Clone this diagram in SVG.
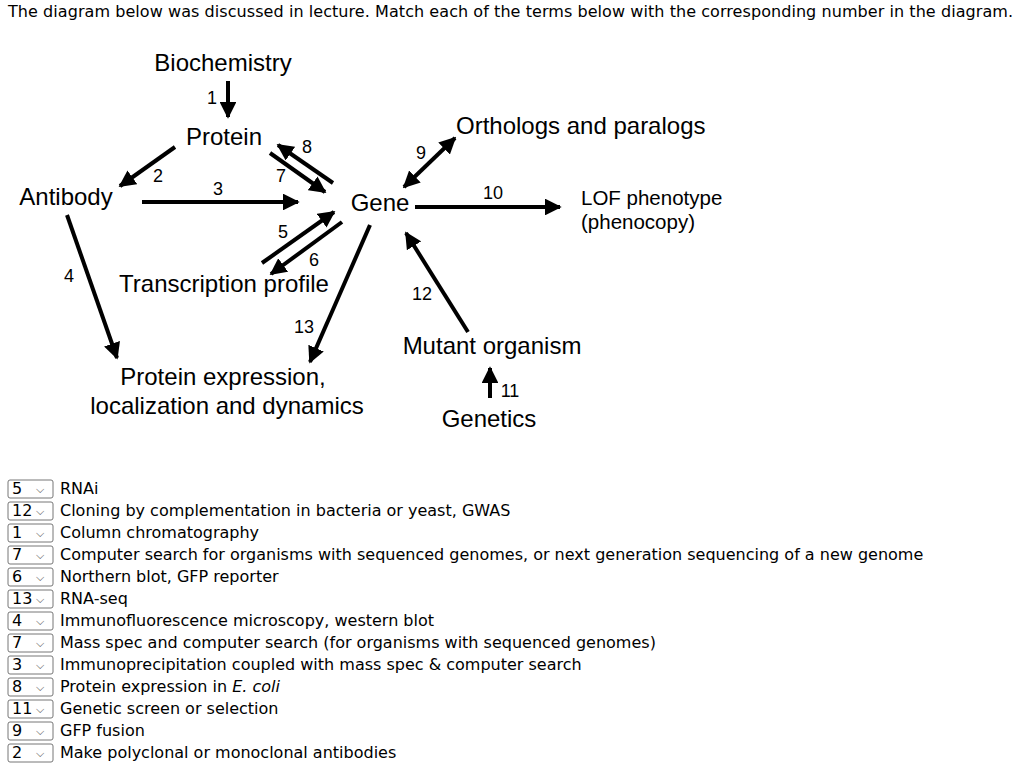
<svg xmlns="http://www.w3.org/2000/svg" width="1024" height="772" viewBox="0 0 1024 772">
<defs>
<marker id="ah" viewBox="0 0 10 10" refX="9" refY="5" markerWidth="4.2" markerHeight="4.2" orient="auto-start-reverse"><path d="M0,0 L10,5 L0,10 Z" fill="#000"/></marker>
<style>
.l{font-family:"Liberation Sans",Arial,sans-serif;font-size:24px;fill:#000}
.n{font-family:"Liberation Sans",Arial,sans-serif;font-size:18px;fill:#000}
.v{font-family:"DejaVu Sans",Verdana,sans-serif;font-size:16px;fill:#000}
.k{font-family:"DejaVu Sans",Verdana,sans-serif;font-size:11px;fill:#555}
.c line{stroke:#000;stroke-width:4;marker-end:url(#ah)}
.b{fill:#fff;stroke:#767676;stroke-width:1}
</style>
</defs>
<rect width="1024" height="772" fill="#fff"/>
<text class="v" x="8" y="17" textLength="1005">The diagram below was discussed in lecture. Match each of the terms below with the corresponding number in the diagram.</text>
<g id="nodes">
<g id="biochem"><text class="l" x="223" y="71" text-anchor="middle">Biochemistry</text></g>
<g id="protein"><text class="l" x="224" y="145" text-anchor="middle">Protein</text></g>
<g id="antibody"><text class="l" x="66" y="205" text-anchor="middle">Antibody</text></g>
<g id="gene"><text class="l" x="380" y="211" text-anchor="middle">Gene</text></g>
<g id="orth"><text class="l" x="456" y="134">Orthologs and paralogs</text></g>
<g id="lof"><text class="l" x="581" y="205" style="font-size:20.5px">LOF phenotype</text><text class="l" x="581" y="229" style="font-size:20.5px">(phenocopy)</text></g>
<g id="trans"><text class="l" x="224" y="292" text-anchor="middle">Transcription profile</text></g>
<g id="mutant"><text class="l" x="492" y="354" text-anchor="middle">Mutant organism</text></g>
<g id="protexp"><text class="l" x="223" y="385" text-anchor="middle">Protein expression,</text><text class="l" x="227" y="414" text-anchor="middle">localization and dynamics</text></g>
<g id="genetics"><text class="l" x="489" y="427" text-anchor="middle">Genetics</text></g>
</g>
<g id="connectors" class="c">
<line x1="228" y1="81" x2="228" y2="117"/>
<line x1="175" y1="147" x2="120" y2="186"/>
<line x1="142" y1="202" x2="298" y2="202"/>
<line x1="270" y1="153" x2="325" y2="192"/>
<line x1="333" y1="183" x2="278" y2="145"/>
<line x1="262" y1="263" x2="334" y2="212"/>
<line x1="342" y1="222" x2="271" y2="274"/>
<line x1="370" y1="225" x2="310" y2="362"/>
<line x1="404" y1="187" x2="455" y2="138" marker-start="url(#ah)"/>
<line x1="468" y1="332" x2="406" y2="233"/>
<line x1="415" y1="207" x2="560" y2="207"/>
<line x1="67" y1="215" x2="117" y2="358"/>
<line x1="490" y1="398" x2="490" y2="368"/>
</g>
<g id="labels">
<text class="n" x="212" y="104" text-anchor="middle">1</text>
<text class="n" x="158" y="182" text-anchor="middle">2</text>
<text class="n" x="218" y="195" text-anchor="middle">3</text>
<text class="n" x="69" y="282" text-anchor="middle">4</text>
<text class="n" x="283" y="238" text-anchor="middle">5</text>
<text class="n" x="314" y="266" text-anchor="middle">6</text>
<text class="n" x="281" y="182" text-anchor="middle">7</text>
<text class="n" x="307" y="153" text-anchor="middle">8</text>
<text class="n" x="421" y="159" text-anchor="middle">9</text>
<text class="n" x="493" y="199" text-anchor="middle">10</text>
<text class="n" x="510" y="397" text-anchor="middle">11</text>
<text class="n" x="422" y="300" text-anchor="middle">12</text>
<text class="n" x="304" y="333" text-anchor="middle">13</text>
</g>
<g id="list">
<g id="r1"><rect class="b" x="8" y="480" width="45" height="18" rx="2"/><text class="v" x="12" y="494">5</text><text class="k" x="36" y="493">⌵</text><text class="v" x="60" y="494">RNAi</text></g>
<g id="r2"><rect class="b" x="8" y="502" width="45" height="18" rx="2"/><text class="v" x="12" y="516">12</text><text class="k" x="36" y="515">⌵</text><text class="v" x="60" y="516">Cloning by complementation in bacteria or yeast, GWAS</text></g>
<g id="r3"><rect class="b" x="8" y="524" width="45" height="18" rx="2"/><text class="v" x="12" y="538">1</text><text class="k" x="36" y="537">⌵</text><text class="v" x="60" y="538">Column chromatography</text></g>
<g id="r4"><rect class="b" x="8" y="546" width="45" height="18" rx="2"/><text class="v" x="12" y="560">7</text><text class="k" x="36" y="559">⌵</text><text class="v" x="60" y="560">Computer search for organisms with sequenced genomes, or next generation sequencing of a new genome</text></g>
<g id="r5"><rect class="b" x="8" y="568" width="45" height="18" rx="2"/><text class="v" x="12" y="582">6</text><text class="k" x="36" y="581">⌵</text><text class="v" x="60" y="582">Northern blot, GFP reporter</text></g>
<g id="r6"><rect class="b" x="8" y="590" width="45" height="18" rx="2"/><text class="v" x="12" y="604">13</text><text class="k" x="36" y="603">⌵</text><text class="v" x="60" y="604">RNA-seq</text></g>
<g id="r7"><rect class="b" x="8" y="612" width="45" height="18" rx="2"/><text class="v" x="12" y="626">4</text><text class="k" x="36" y="625">⌵</text><text class="v" x="60" y="626">Immunofluorescence microscopy, western blot</text></g>
<g id="r8"><rect class="b" x="8" y="634" width="45" height="18" rx="2"/><text class="v" x="12" y="648">7</text><text class="k" x="36" y="647">⌵</text><text class="v" x="60" y="648">Mass spec and computer search (for organisms with sequenced genomes)</text></g>
<g id="r9"><rect class="b" x="8" y="656" width="45" height="18" rx="2"/><text class="v" x="12" y="670">3</text><text class="k" x="36" y="669">⌵</text><text class="v" x="60" y="670">Immunoprecipitation coupled with mass spec &amp; computer search</text></g>
<g id="r10"><rect class="b" x="8" y="678" width="45" height="18" rx="2"/><text class="v" x="12" y="692">8</text><text class="k" x="36" y="691">⌵</text><text class="v" x="60" y="692">Protein expression in <tspan font-style="italic">E. coli</tspan></text></g>
<g id="r11"><rect class="b" x="8" y="700" width="45" height="18" rx="2"/><text class="v" x="12" y="714">11</text><text class="k" x="36" y="713">⌵</text><text class="v" x="60" y="714">Genetic screen or selection</text></g>
<g id="r12"><rect class="b" x="8" y="722" width="45" height="18" rx="2"/><text class="v" x="12" y="736">9</text><text class="k" x="36" y="735">⌵</text><text class="v" x="60" y="736">GFP fusion</text></g>
<g id="r13"><rect class="b" x="8" y="744" width="45" height="18" rx="2"/><text class="v" x="12" y="758">2</text><text class="k" x="36" y="757">⌵</text><text class="v" x="60" y="758">Make polyclonal or monoclonal antibodies</text></g>
</g>
</svg>
